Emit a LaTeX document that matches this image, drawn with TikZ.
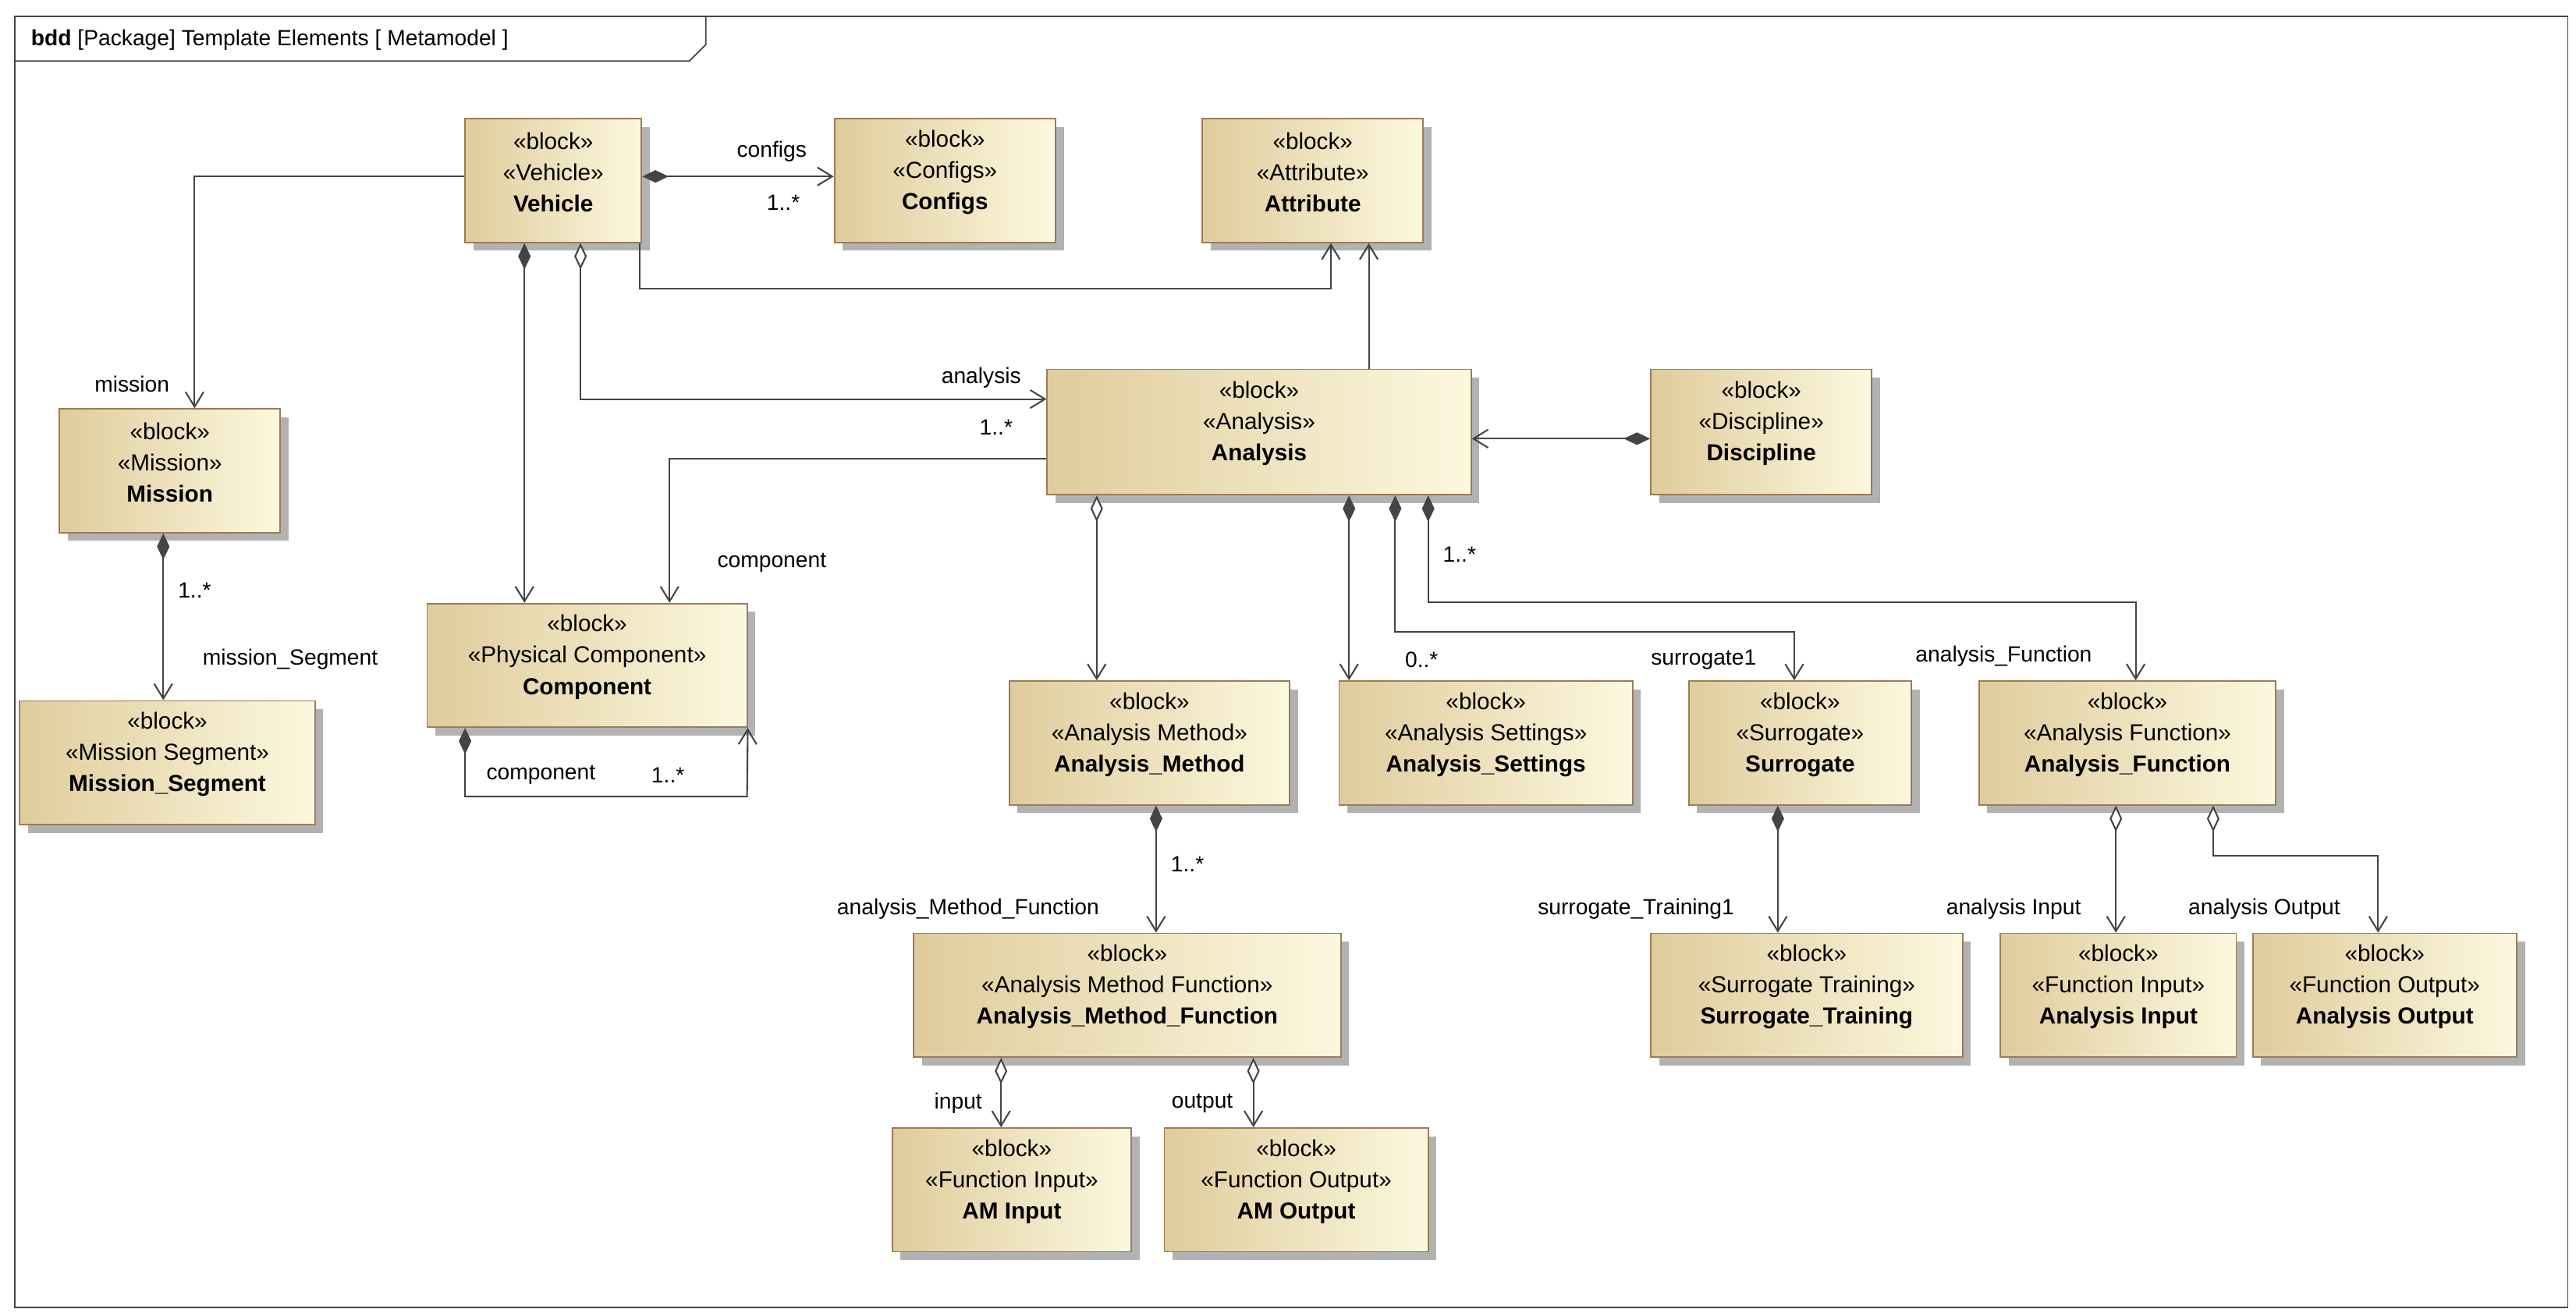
\documentclass[tikz,border=0pt]{standalone}
\usepackage{fontspec}
\setmainfont{Liberation Sans}
\usetikzlibrary{arrows.meta,fit,shadows}
\definecolor{ln}{HTML}{444444}
\definecolor{bd}{HTML}{9C7B58}
\definecolor{dk}{HTML}{DFCC9C}
\definecolor{lt}{HTML}{FCF8DE}
\tikzset{
 box/.style={draw=bd,line width=1.2pt,left color=dk,right color=lt,inner sep=0pt,align=center,
   font=\fontsize{20}{27}\selectfont,
   drop shadow={shadow xshift=0.25cm,shadow yshift=-0.25cm,fill=black!30,opacity=1}},
 con/.style={draw=ln,line width=1.4pt},
 to/.style={con,-{Straight Barb[length=0.45cm,width=0.55cm,line width=1.4pt]}},
 comp/.style={to,{Diamond[length=0.8cm,width=0.38cm,fill=ln]}-{Straight Barb[length=0.45cm,width=0.55cm,line width=1.4pt]}},
 agg/.style={to,{Diamond[open,length=0.8cm,width=0.38cm,fill=white]}-{Straight Barb[length=0.45cm,width=0.55cm,line width=1.4pt]}},
 lbl/.style={font=\fontsize{19}{22}\selectfont,text=black,inner sep=1pt},
}
\newcommand{\blk}[7]{\node[box,fit={(#2,#3)(#4,#5)}] (#1) {«block»\\«#6»\\\textbf{#7}};}
\begin{document}
\begin{tikzpicture}[x=0.05cm,y=-0.05cm]
\useasboundingbox (0,0) rectangle (1562,798);
\draw[line width=1.2pt,ln] (9,10) rectangle (1557,793);
\draw[line width=1.2pt,ln] (9,37) -- (418,37) -- (428,27) -- (428,10);
\node[lbl,anchor=west] (hdr) at (18,24) {\textbf{bdd} [Package] Template Elements [ Metamodel ]};
\blk{veh}{282}{72}{389}{147}{Vehicle}{Vehicle}
\blk{cfg}{506}{72}{640}{147}{Configs}{Configs}
\blk{att}{729}{72}{863}{147}{Attribute}{Attribute}
\blk{ana}{635}{224}{892}{300}{Analysis}{Analysis}
\blk{dis}{1001}{224}{1135}{300}{Discipline}{Discipline}
\blk{mis}{36}{248}{170}{323}{Mission}{Mission}
\blk{cmp}{259}{366}{453}{441}{Physical Component}{Component}
\blk{mseg}{12}{425}{191}{500}{Mission Segment}{Mission\_Segment}
\blk{am}{612}{413}{782}{488}{Analysis Method}{Analysis\_Method}
\blk{as}{812}{413}{990}{488}{Analysis Settings}{Analysis\_Settings}
\blk{sur}{1024}{413}{1159}{488}{Surrogate}{Surrogate}
\blk{af}{1200}{413}{1380}{488}{Analysis Function}{Analysis\_Function}
\blk{amf}{554}{566}{813}{641}{Analysis Method Function}{Analysis\_Method\_Function}
\blk{st}{1001}{566}{1190}{641}{Surrogate Training}{Surrogate\_Training}
\blk{ai}{1213}{566}{1356}{641}{Function Input}{Analysis Input}
\blk{ao}{1366}{566}{1526}{641}{Function Output}{Analysis Output}
\blk{ami}{541}{684}{686}{759}{Function Input}{AM Input}
\blk{amo}{706}{684}{866}{759}{Function Output}{AM Output}
% connectors
\draw[comp] (veh.east|-0,107) -- (cfg.west|-0,107);
\node[lbl] (l1) at (468,92) {configs};
\node[lbl] (l2) at (475,123) {1..*};
\draw[to] (veh.west|-0,107) -| (mis.north-|118,0);
\node[lbl] (l3) at (80,233) {mission};
\draw[to] (veh.south-|388,0) |- (807,175) -- (att.south-|807,0);
\draw[comp] (veh.south-|318,0) -- (cmp.north-|318,0);
\draw[agg] (veh.south-|352,0) |- (ana.west|-0,242);
\node[lbl] (l4) at (595,229) {analysis};
\node[lbl] (l5) at (604,259) {1..*};
\draw[to] (ana.west|-0,278) -| (cmp.north-|406,0);
\node[lbl] (l6) at (468,341) {component};
\draw[to] (ana.north-|830,0) -- (att.south-|830,0);
\draw[comp] (dis.west|-0,266) -- (ana.east|-0,266);
\draw[comp] (mis.south-|99,0) -- (mseg.north-|99,0);
\node[lbl] (l7) at (118,358) {1..*};
\node[lbl] (l8) at (176,400) {mission\_Segment};
\draw[comp] (cmp.south-|282,0) |- (453,483) -- (cmp.south east);
\node[lbl] (l9) at (328,470) {component};
\node[lbl] (l10) at (405,470) {1..*};
\draw[agg] (ana.south-|665,0) -- (am.north-|665,0);
\draw[comp] (ana.south-|818,0) -- (as.north-|818,0);
\node[lbl] (l11) at (862,400) {0..*};
\draw[comp] (ana.south-|846,0) |- (1088,383) -- (sur.north-|1088,0);
\node[lbl] (l12) at (1033,400) {surrogate1};
\draw[comp] (ana.south-|866,0) |- (1295,365) -- (af.north-|1295,0);
\node[lbl] (l13) at (885,336) {1..*};
\node[lbl] (l14) at (1215,398) {analysis\_Function};
\draw[comp] (am.south-|701,0) -- (amf.north-|701,0);
\node[lbl] (l15) at (720,524) {1..*};
\node[lbl] (l16) at (587,551) {analysis\_Method\_Function};
\draw[comp] (sur.south-|1078,0) -- (st.north-|1078,0);
\node[lbl] (l17) at (992,551) {surrogate\_Training1};
\draw[agg] (af.south-|1283,0) -- (ai.north-|1283,0);
\node[lbl] (l18) at (1221,551) {analysis Input};
\draw[agg] (af.south-|1342,0) |- (1442,519) -- (ao.north-|1442,0);
\node[lbl] (l19) at (1373,551) {analysis Output};
\draw[agg] (amf.south-|607,0) -- (ami.north-|607,0);
\node[lbl] (l20) at (581,669) {input};
\draw[agg] (amf.south-|760,0) -- (amo.north-|760,0);
\node[lbl] (l21) at (729,669) {output};
\end{tikzpicture}
\end{document}
